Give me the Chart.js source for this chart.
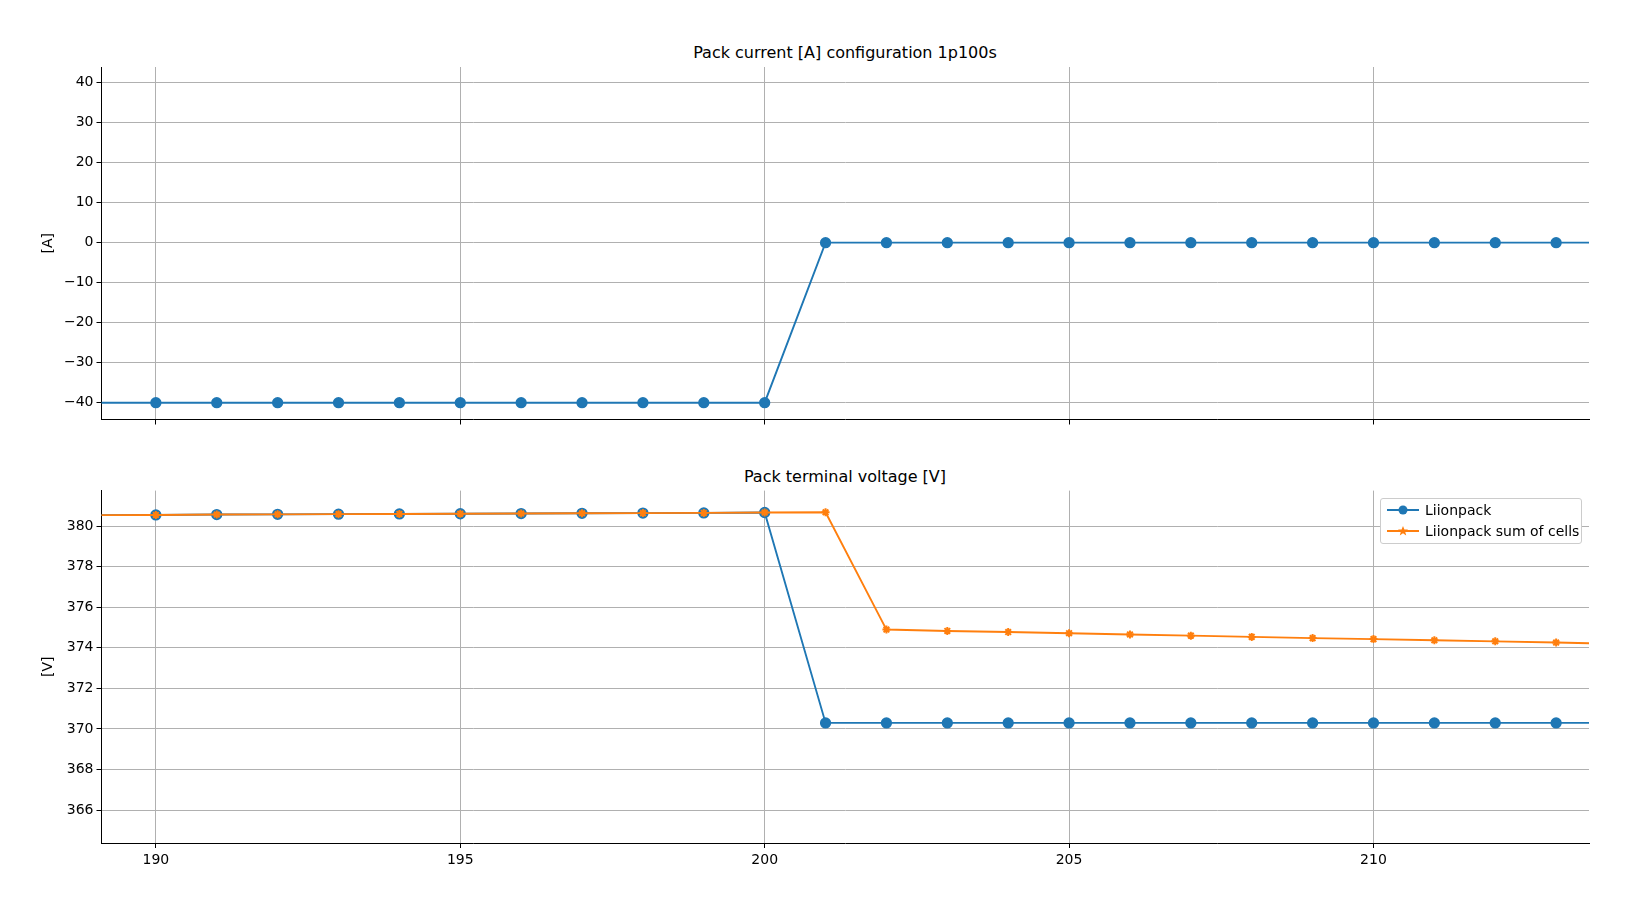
<!DOCTYPE html><html><head><meta charset="utf-8">
<script src="https://cdn.jsdelivr.net/npm/chart.js@4"></script>
<style>body{margin:0;background:#fff;font-family:"DejaVu Sans";}
.c{position:absolute;left:0;width:1640px}
.t{position:absolute;width:1488px;left:101px;text-align:center;font-size:16px;color:#000}
#leg{position:absolute;left:1380px;top:498px;width:200px;height:44px;border:1px solid #ccc;border-radius:3px;background:#fff;font-size:14px}
#leg div{position:relative;height:21px;line-height:21px;padding-left:44px}
#leg svg{position:absolute;left:6px;top:2px}
</style></head><body>
<div class="t" style="top:43px">Pack current [A] configuration 1p100s</div>
<div class="t" style="top:467px">Pack terminal voltage [V]</div>
<div class="c" style="top:0;height:450px"><canvas id="c1"></canvas></div>
<div class="c" style="top:450px;height:465px"><canvas id="c2"></canvas></div>
<div id="leg">
<div style="margin-top:1px"><svg width="32" height="16"><line x1="0" y1="8" x2="32" y2="8" stroke="#1f77b4" stroke-width="2"/><circle cx="16" cy="8" r="4.5" fill="#1f77b4"/></svg>Liionpack</div>
<div><svg width="32" height="16"><line x1="0" y1="8" x2="32" y2="8" stroke="#ff7f0e" stroke-width="2"/><polygon points="16,3 17.4,6.5 21,6.5 18.2,8.8 19.2,12.5 16,10.3 12.8,12.5 13.8,8.8 11,6.5 14.6,6.5" fill="#ff7f0e"/></svg>Liionpack sum of cells</div>
</div>
<script>
const steps=[189,190,191,192,193,194,195,196,197,198,199,200,201,202,203,204,205,206,207,208,209,210,211,212,213,214];
const current=[-40,-40,-40,-40,-40,-40,-40,-40,-40,-40,-40,-40,0,0,0,0,0,0,0,0,0,0,0,0,0,0];
const voltagePack=[380.54,380.55,380.57,380.58,380.59,380.60,380.61,380.62,380.63,380.64,380.65,380.67,370.3,370.3,370.3,370.3,370.3,370.3,370.3,370.3,370.3,370.3,370.3,370.3,370.3,370.3];
const voltageCells=[380.54,380.55,380.57,380.58,380.59,380.60,380.61,380.62,380.63,380.64,380.65,380.67,380.68,374.9,374.83,374.78,374.72,374.66,374.6,374.54,374.48,374.43,374.37,374.32,374.26,374.2];
const font={family:"DejaVu Sans",size:14};
function mk(id,sets,ymin,ymax,step,xLabels,yTitle,padTop,xH){
 new Chart(document.getElementById(id),{type:'line',
 data:{datasets:sets},
 options:{responsive:true,maintainAspectRatio:false,animation:false,
  layout:{padding:{top:padTop,right:51,left:40,bottom:0}},
  plugins:{legend:{display:false},tooltip:{enabled:false}},
  scales:{
   x:{type:'linear',min:189.107,max:213.54,
     afterBuildTicks:a=>{a.ticks=[190,195,200,205,210].map(v=>({value:v}));},
     afterFit:a=>{a.height=xH;},
     grid:{color:'#b0b0b0',tickColor:'#000',tickLength:5,drawOnChartArea:true},
     border:{color:'#000'},
     ticks:{display:xLabels,color:'#000',font,maxRotation:0,padding:4}},
   y:{min:ymin,max:ymax,
     afterBuildTicks:a=>{const t=[];for(let v=Math.ceil(ymin/step)*step;v<=ymax;v+=step)t.push({value:v});a.ticks=t;},
     afterFit:a=>{a.width=61.5;},
     grid:{color:'#b0b0b0',tickColor:'#000',tickLength:5},
     border:{color:'#000'},
     title:{display:true,text:yTitle,color:'#000',font,padding:0},
     ticks:{color:'#000',font,callback:v=>String(v).replace('-','\u2212')}}
  }}});
}
const pts=(ys)=>steps.map((x,i)=>({x,y:ys[i]}));
mk('c1',[{data:pts(current),borderColor:'#1f77b4',backgroundColor:'#1f77b4',borderWidth:1.9,pointRadius:4.7,pointHoverRadius:4.7,tension:0}],-44.2,43.9,10,false,'[A]',67,30.5);
mk('c2',[{data:pts(voltagePack),borderColor:'#1f77b4',backgroundColor:'#1f77b4',borderWidth:1.9,pointRadius:4.7,tension:0,order:2},
 {data:pts(voltageCells),borderColor:'#ff7f0e',backgroundColor:'#ff7f0e',borderWidth:1.9,pointStyle:'star',pointRadius:4,pointBorderWidth:2,tension:0,order:1}],364.38,381.75,2,true,'[V]',40.6,72);
</script></body></html>
